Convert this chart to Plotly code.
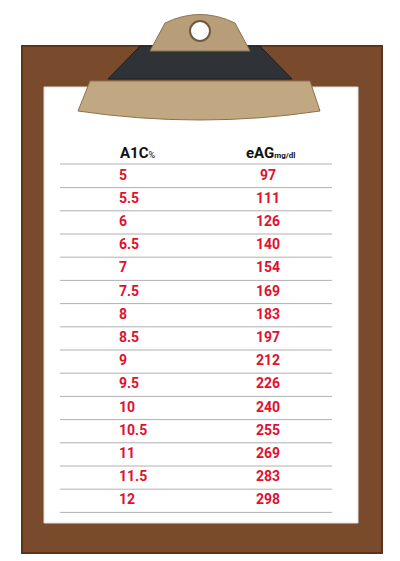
import plotly.graph_objects as go

# A1C to estimated average glucose table
a1c = ['5', '5.5', '6', '6.5', '7', '7.5', '8', '8.5', '9', '9.5', '10', '10.5', '11', '11.5', '12']
eag = ['97', '111', '126', '140', '154', '169', '183', '197', '212', '226', '240', '255', '269', '283', '298']

W, H = 400, 561
OX, OY = 8, 7  # page offset of the plot inside the window
row_top = 175
row_h = 23.2
rows_y = [row_top + i * row_h for i in range(len(a1c))]

fig = go.Figure()

shapes = []
# clipboard board
shapes.append(dict(type='rect', x0=22, y0=45, x1=382, y1=552, fillcolor='#7a4a2c',
                   line=dict(color='#5c341c', width=2), layer='below'))
# paper
shapes.append(dict(type='rect', x0=44, y0=86, x1=358, y1=522, fillcolor='#ffffff',
                   line=dict(color='#dddddd', width=1), layer='below'))
# clip
shapes.append(dict(type='path', path='M 108 78 L 140 45 L 260 45 L 292 78 Z',
                   fillcolor='#2f3338', line=dict(color='#1c1f22', width=1)))
shapes.append(dict(type='path', path='M 150 50 L 165 22 Q 200 5 235 22 L 250 50 Z',
                   fillcolor='#b89e78', line=dict(color='#8a7250', width=1)))
shapes.append(dict(type='circle', x0=190, y0=20, x1=210, y1=40, fillcolor='#ffffff',
                   line=dict(color='#6e5a40', width=2)))
shapes.append(dict(type='path', path='M 78 110 L 90 80 L 310 80 L 320 110 Q 200 128 78 110 Z',
                   fillcolor='#c2a882', line=dict(color='#8a7250', width=1)))
# table lines
line_ys = [163] + [y + row_h / 2 for y in rows_y]
for ly in line_ys:
    shapes.append(dict(type='line', x0=60, x1=332, y0=ly, y1=ly,
                       line=dict(color='#b0b0b0', width=1)))

fig.add_trace(go.Scatter(x=[119] * len(a1c), y=rows_y, mode='text', text=a1c,
                         textposition='middle right',
                         textfont=dict(family='Roboto', size=14, color='#e0102f', weight='bold'),
                         hoverinfo='skip'))
fig.add_trace(go.Scatter(x=[268] * len(eag), y=rows_y, mode='text', text=eag,
                         textposition='middle center',
                         textfont=dict(family='Roboto', size=14, color='#e0102f', weight='bold'),
                         hoverinfo='skip'))

annotations = [
    dict(x=138, y=152, text='<b>A1C</b><span style="font-size:9px">%</span>', showarrow=False,
         font=dict(family='Roboto', size=15, color='#111111')),
    dict(x=270, y=152, text='<b>eAG</b><span style="font-size:8px"><b>mg/dl</b></span>', showarrow=False,
         font=dict(family='Roboto', size=15, color='#111111')),
]

fig.update_layout(
    width=W, height=H, margin=dict(l=0, r=0, t=0, b=0),
    paper_bgcolor='#ffffff', plot_bgcolor='#ffffff', showlegend=False,
    xaxis=dict(range=[OX, W + OX], visible=False, fixedrange=True),
    yaxis=dict(range=[H + OY, OY], visible=False, fixedrange=True),
    shapes=shapes, annotations=annotations,
)

fig.write_html("out.html")
